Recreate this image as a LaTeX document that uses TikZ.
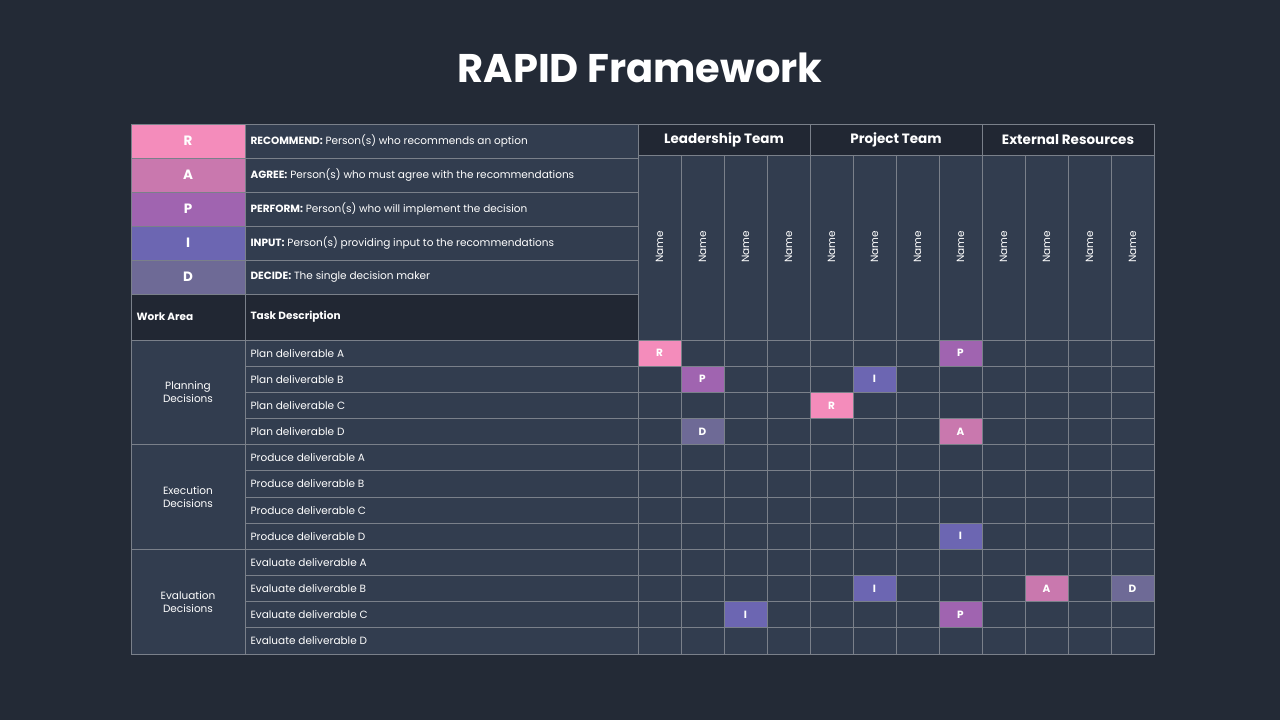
\documentclass[tikz,border=0pt]{standalone}
\usepackage{fontspec}
\setmainfont{Poppins}
\usepackage{tikz}
\usetikzlibrary{positioning,calc}
\definecolor{bgc}{HTML}{232A36}
\definecolor{cellc}{HTML}{323D4F}
\definecolor{headc}{HTML}{212733}
\definecolor{linec}{HTML}{7A808A}
\definecolor{colR}{HTML}{F48CBB}
\definecolor{colA}{HTML}{C978AE}
\definecolor{colP}{HTML}{A064B0}
\definecolor{colI}{HTML}{6C66B2}
\definecolor{colD}{HTML}{6E6A96}
\tikzset{
  box/.style={draw=linec, line width=0.8pt},
  letter/.style={font=\bfseries\fontsize{10.5}{10.5}\selectfont, text=white},
  txt/.style={font=\fontsize{10.5}{13}\selectfont, text=white, anchor=west},
}
\begin{document}
\begin{tikzpicture}[x=1pt,y=-1pt]
    \fill[bgc] (0,0) rectangle (1280,720);
    \useasboundingbox (0,0) rectangle (1280,720);
    \node[font=\bfseries\fontsize{40}{40}\selectfont, text=white] (title) at (640,68) {RAPID Framework};

    % Legend rows
    \foreach \l/\c/\w/\d [count=\i from 0] in {
        R/colR/RECOMMEND:/Person(s) who recommends an option,
        A/colA/AGREE:/Person(s) who must agree with the recommendations,
        P/colP/PERFORM:/Person(s) who will implement the decision,
        I/colI/INPUT:/Person(s) providing input to the recommendations,
        D/colD/DECIDE:/The single decision maker} {
        \pgfmathsetmacro{\ya}{124+34*\i}
        \draw[box, fill=\c] (131,\ya) rectangle (245,\ya+34);
        \draw[box, fill=cellc] (245,\ya) rectangle (638,\ya+34);
        \node[letter, font=\bfseries\fontsize{13.5}{13.5}\selectfont] (key\l) at (188,\ya+17) {\l};
        \node[txt] (def\l) at (247,\ya+17) {\textbf{\w} \d};
    }

    % Header row
    \draw[box, fill=headc] (131,294) rectangle (245,340);
    \draw[box, fill=headc] (245,294) rectangle (638,340);
    \node[txt, font=\bfseries\fontsize{10.5}{13}\selectfont] (hwork) at (133,317) {Work Area};
    \node[txt, font=\bfseries\fontsize{10.5}{13}\selectfont] (htask) at (247,317) {Task Description};

    % Team headers and name columns
    \foreach \t [count=\g from 0] in {Leadership Team, Project Team, External Resources} {
        \draw[box, fill=headc] (638+172*\g,124) rectangle (810+172*\g,155);
        \node[font=\bfseries\fontsize{13.5}{13.5}\selectfont, text=white] (team\g) at (724+172*\g,140) {\t};
    }
    \foreach \k in {0,...,11} {
        \draw[box, fill=cellc] (638+43*\k,155) rectangle (681+43*\k,340);
        \node[rotate=90, font=\fontsize{10.5}{10.5}\selectfont, text=white] (name\k) at (659.5+43*\k,247) {Name};
    }

    % Task rows
    \foreach \t [count=\r from 0] in {Plan deliverable A, Plan deliverable B, Plan deliverable C, Plan deliverable D,
        Produce deliverable A, Produce deliverable B, Produce deliverable C, Produce deliverable D,
        Evaluate deliverable A, Evaluate deliverable B, Evaluate deliverable C, Evaluate deliverable D} {
        \pgfmathsetmacro{\ya}{340+26.17*\r}
        \draw[box, fill=cellc] (245,\ya) rectangle (638,\ya+26.17);
        \node[txt] (task\r) at (247,\ya+13.08) {\t};
        \foreach \k in {0,...,11}
            \draw[box, fill=cellc] (638+43*\k,\ya) rectangle (681+43*\k,\ya+26.17);
    }

    % Work areas
    \foreach \a [count=\g from 0] in {Planning, Execution, Evaluation} {
        \pgfmathsetmacro{\ya}{340+104.67*\g}
        \draw[box, fill=cellc] (131,\ya) rectangle (245,\ya+104.67);
        \node[font=\fontsize{10.5}{13}\selectfont, text=white, align=center] (area\g) at (188,\ya+52.3) {\a\\Decisions};
    }

    % RAPID marks (row/column)
    \foreach \r/\k/\l/\c in {0/0/R/colR, 0/7/P/colP, 1/1/P/colP, 1/5/I/colI, 2/4/R/colR,
        3/1/D/colD, 3/7/A/colA, 7/7/I/colI, 9/5/I/colI, 9/9/A/colA, 9/11/D/colD,
        10/2/I/colI, 10/7/P/colP} {
        \pgfmathsetmacro{\ya}{340+26.17*\r}
        \draw[box, fill=\c] (638+43*\k,\ya) rectangle (681+43*\k,\ya+26.17);
        \node[letter] at (659.5+43*\k,\ya+13.08) {\l};
    }
\end{tikzpicture}
\end{document}
